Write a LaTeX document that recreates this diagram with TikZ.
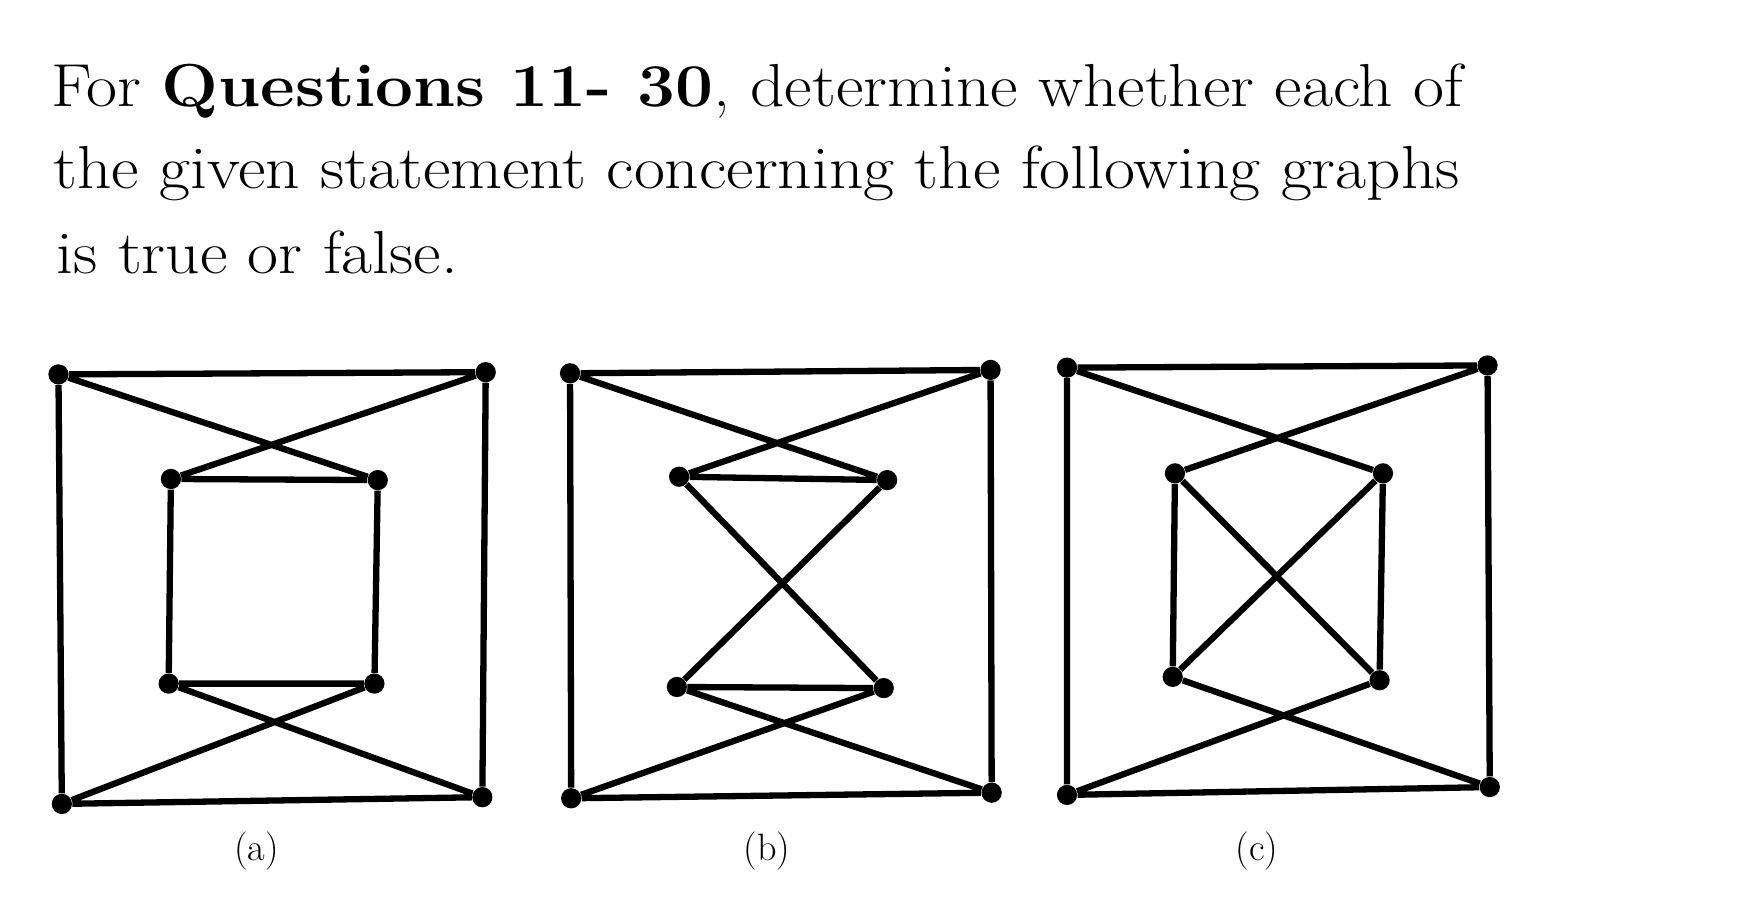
\documentclass[tikz,border=0pt]{standalone}
\begin{document}
\begin{tikzpicture}[x=0.5pt,y=-0.5pt,
  v/.style={circle,fill=black,inner sep=0pt,minimum size=9pt},
  e/.style={line width=2.8pt},
  ln/.style={anchor=base west,inner sep=0pt,font=\fontsize{27}{30}\selectfont},
  capt/.style={font=\fontsize{17}{20}\selectfont}]
\useasboundingbox (0,0) rectangle (1560,797);
\node[ln] (l1) at (45,95) {\scalebox{1.11}[1]{For \textbf{Questions 11- 30}, determine whether each of}};
\node[ln] (l2) at (47,168) {\scalebox{1.11}[1]{the given statement concerning the following graphs}};
\node[ln] (l3) at (50,243) {\scalebox{1.11}[1]{is true or false.}};
% (a)
\node[v] (a1) at (52,333) {}; \node[v] (a2) at (432,331) {}; \node[v] (a3) at (429,709) {}; \node[v] (a4) at (55,715) {};
\node[v] (a5) at (152,426) {}; \node[v] (a6) at (336,427) {}; \node[v] (a7) at (333,608) {}; \node[v] (a8) at (150,608) {};
\draw[e] (a1)--(a2)--(a3)--(a4)--(a1) (a1)--(a6) (a2)--(a5) (a4)--(a7) (a3)--(a8) (a5)--(a6)--(a7)--(a8)--(a5);
\node[capt] (ca) at (228,757) {(a)};
% (b)
\node[v] (b1) at (507,332) {}; \node[v] (b2) at (881,329) {}; \node[v] (b3) at (882,705) {}; \node[v] (b4) at (508,710) {};
\node[v] (b5) at (604,424) {}; \node[v] (b6) at (789,427) {}; \node[v] (b7) at (786,612) {}; \node[v] (b8) at (602,611) {};
\draw[e] (b1)--(b2)--(b3)--(b4)--(b1) (b1)--(b6) (b2)--(b5) (b4)--(b7) (b3)--(b8) (b5)--(b6) (b8)--(b7) (b5)--(b7) (b6)--(b8);
\node[capt] (cb) at (682,757) {(b)};
% (c)
\node[v] (c1) at (949,327) {}; \node[v] (c2) at (1323,325) {}; \node[v] (c3) at (1325,700) {}; \node[v] (c4) at (949,707) {};
\node[v] (c5) at (1045,421) {}; \node[v] (c6) at (1230,421) {}; \node[v] (c7) at (1227,605) {}; \node[v] (c8) at (1043,602) {};
\draw[e] (c1)--(c2)--(c3)--(c4)--(c1) (c1)--(c6) (c2)--(c5) (c4)--(c7) (c3)--(c8) (c5)--(c8) (c6)--(c7) (c5)--(c7) (c6)--(c8);
\node[capt] (cc) at (1118,757) {(c)};
\end{tikzpicture}
\end{document}
